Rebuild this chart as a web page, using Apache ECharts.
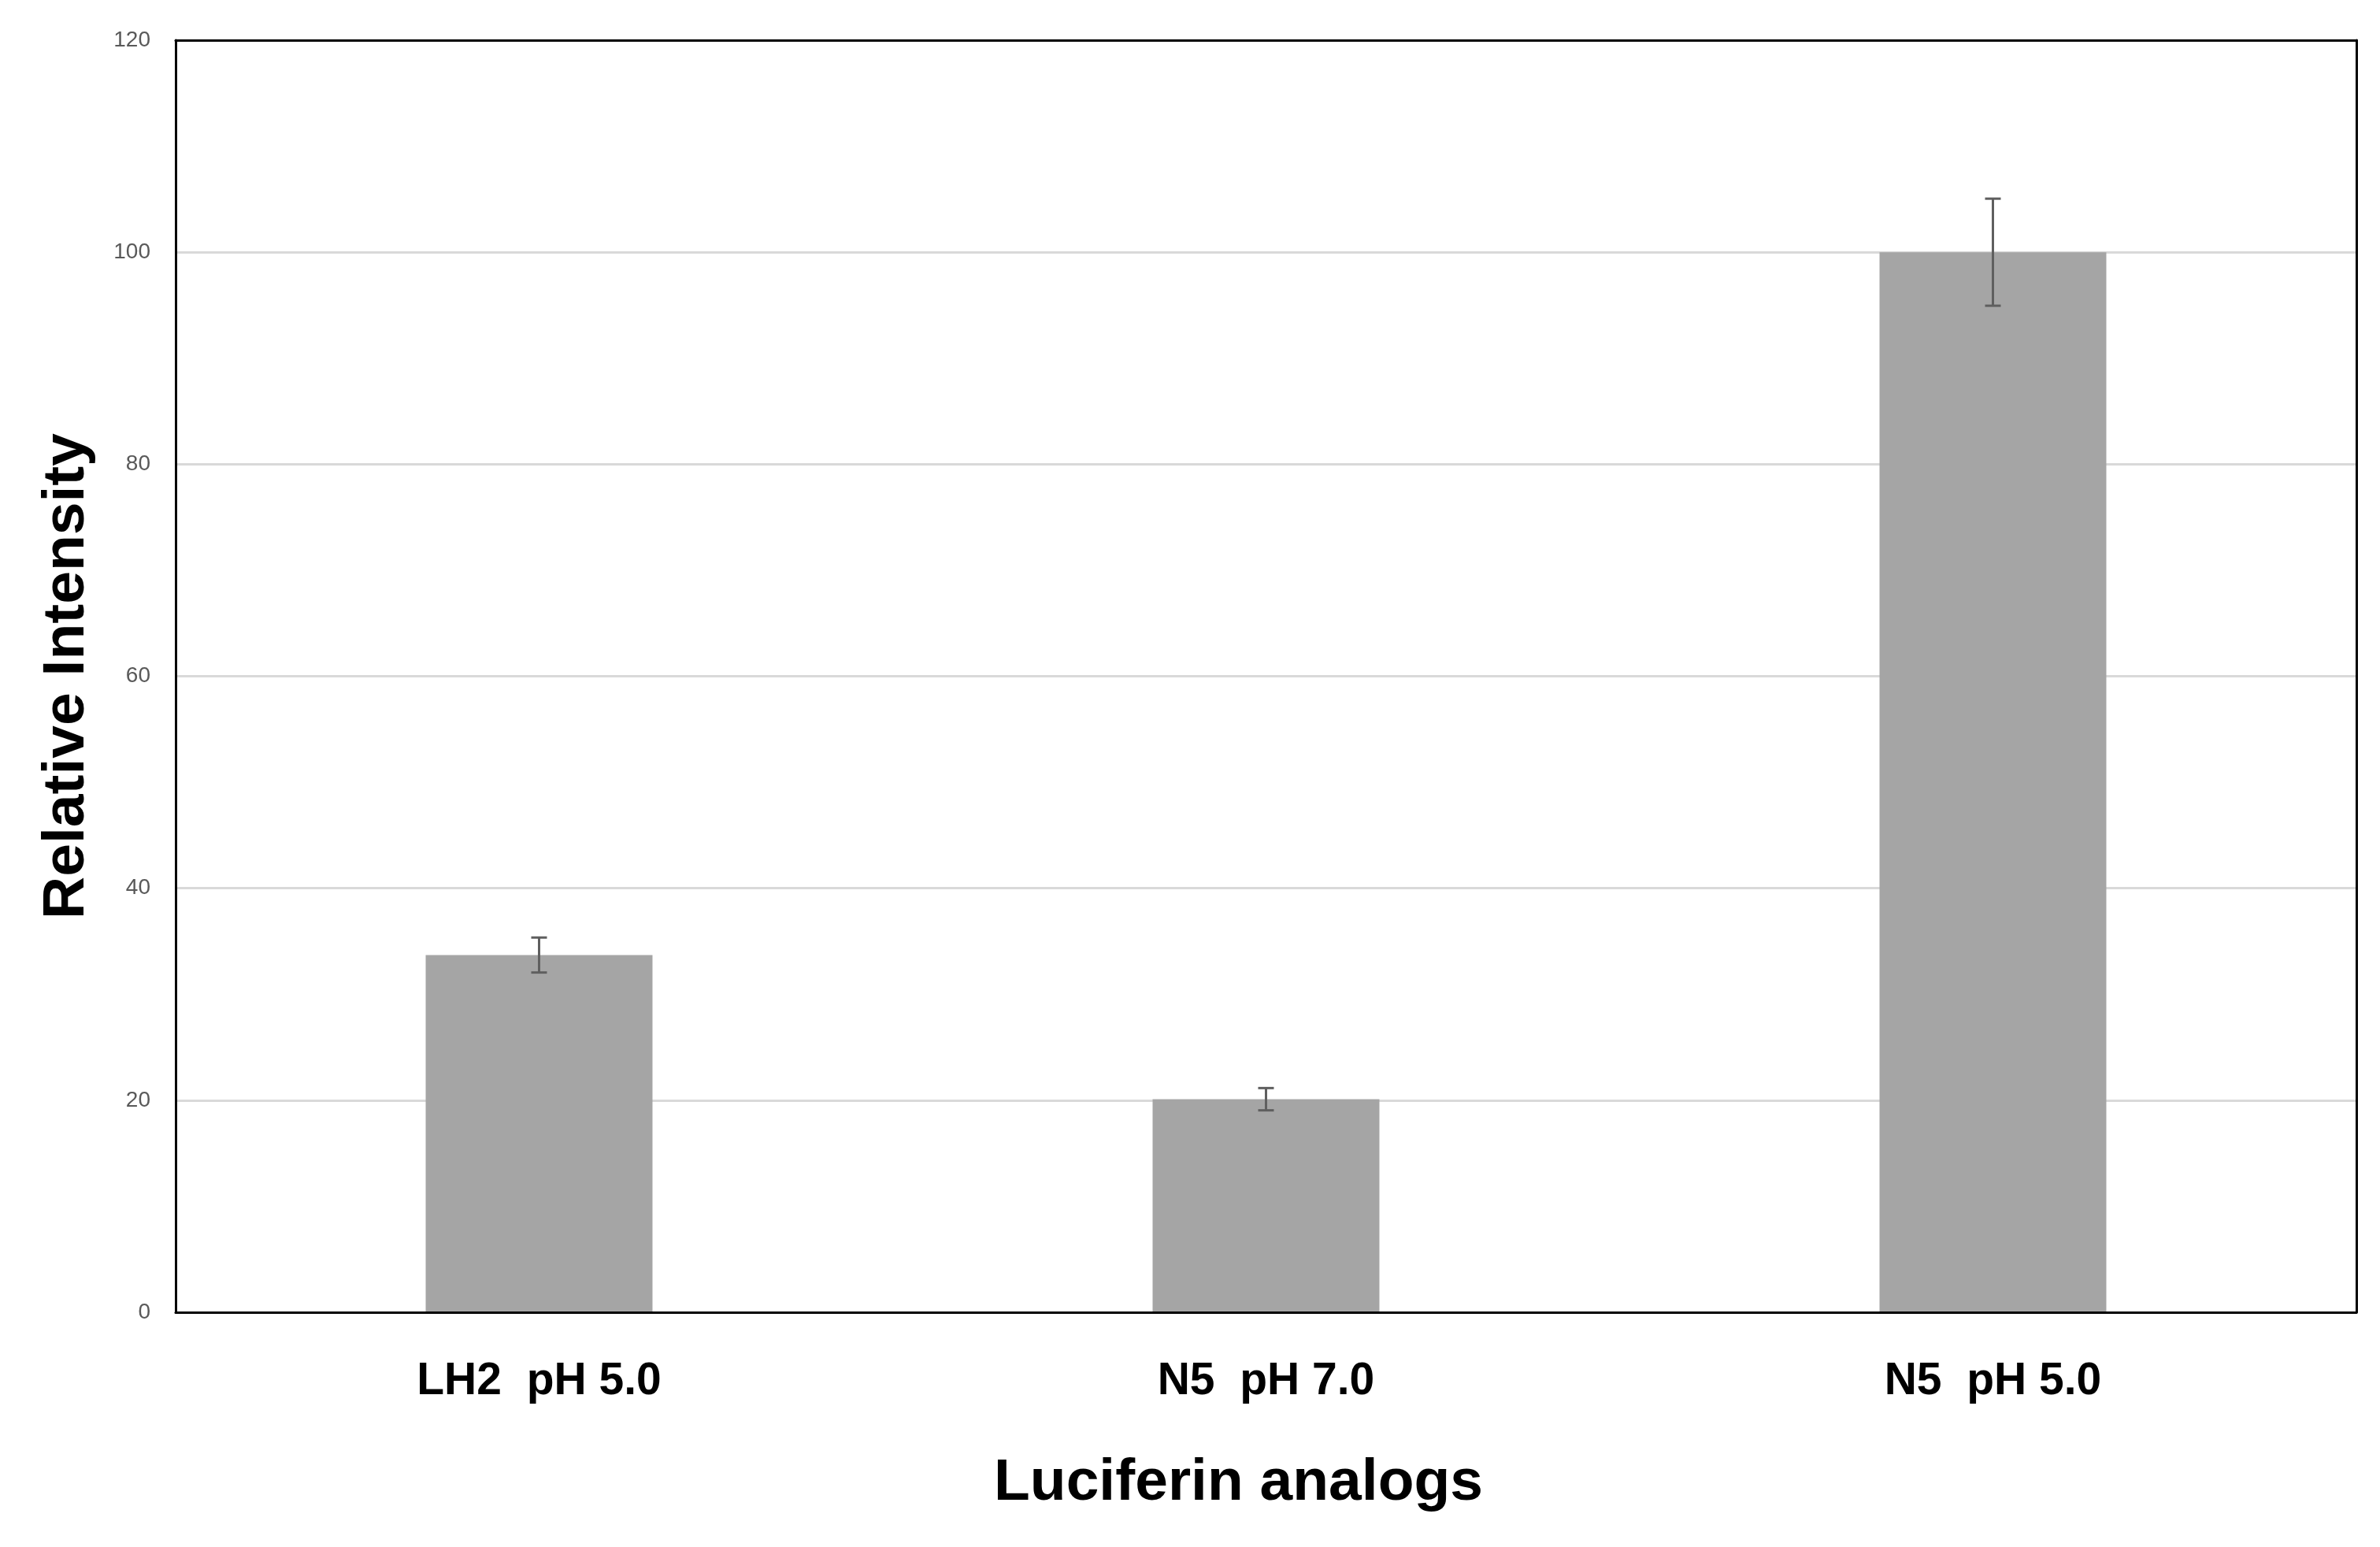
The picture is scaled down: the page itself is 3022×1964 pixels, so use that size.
<!DOCTYPE html>
<html>
<head>
<meta charset="utf-8">
<script src="https://cdn.jsdelivr.net/npm/echarts@6/dist/echarts.min.js"></script>
<style>
html,body{margin:0;padding:0;background:#fff;}
#chart{width:3022px;height:1964px;}
</style>
</head>
<body>
<div id="chart"></div>
<script>
var categories = ['LH2  pH 5.0', 'N5  pH 7.0', 'N5  pH 5.0'];
var values = [33.7, 20.1, 100.0];
var errors = [1.65, 1.05, 5.05];
var yTicks = [0, 20, 40, 60, 80, 100, 120];

var errData = values.map(function (v, i) { return [i, v - errors[i], v + errors[i]]; });

var titleFont = "'Liberation Sans Narrow', 'Liberation Sans', 'DejaVu Sans Condensed', sans-serif";
var yMin = yTicks[0], yMax = yTicks[yTicks.length - 1], yStep = yTicks[1] - yTicks[0];

var chart = echarts.init(document.getElementById('chart'), null, {renderer: 'canvas'});
chart.setOption({
  backgroundColor: '#ffffff',
  animation: false,
  grid: {left: 223, right: 30, top: 51, bottom: 298, show: false},
  xAxis: [{
    type: 'category',
    data: categories,
    axisLine: {show: true, onZero: false, lineStyle: {color: '#000000', width: 3}},
    axisTick: {show: false},
    axisLabel: {
      color: '#000000', fontSize: 57, fontWeight: 'bold', fontFamily: titleFont, margin: 60
    },
    name: 'Luciferin analogs',
    nameLocation: 'middle',
    nameGap: 180,
    nameTextStyle: {
      color: '#000000', fontSize: 75, fontWeight: 'bold', fontFamily: titleFont,
      padding: [0, 70, 0, 0]
    },
    z: 10
  }, {
    type: 'category',
    data: categories,
    position: 'top',
    axisLine: {show: true, onZero: false, lineStyle: {color: '#000000', width: 3}},
    axisTick: {show: false},
    axisLabel: {show: false},
    splitLine: {show: false},
    z: 10
  }],
  yAxis: [{
    type: 'value',
    min: yMin, max: yMax, interval: yStep,
    axisLine: {show: true, onZero: false, lineStyle: {color: '#000000', width: 3}},
    axisTick: {show: false},
    axisLabel: {color: '#595959', fontSize: 28, fontFamily: "'Liberation Sans', sans-serif", margin: 32},
    splitLine: {show: false},
    name: 'Relative Intensity',
    nameLocation: 'middle',
    nameRotate: 90,
    nameGap: 100,
    nameTextStyle: {color: '#000000', fontSize: 75, fontWeight: 'bold', fontFamily: titleFont},
    z: 10
  }, {
    type: 'value',
    position: 'right',
    min: yMin, max: yMax, interval: yStep,
    axisLine: {show: true, onZero: false, lineStyle: {color: '#000000', width: 3}},
    axisTick: {show: false},
    axisLabel: {show: false},
    splitLine: {show: true, showMinLine: false, showMaxLine: false, lineStyle: {color: '#d9d9d9', width: 3}},
    z: 0
  }],
  series: [
    {
      type: 'bar',
      data: values,
      barWidth: '31.2%',
      itemStyle: {color: '#a5a5a5'},
      z: 2
    },
    {
      type: 'custom',
      data: errData,
      z: 5,
      renderItem: function (params, api) {
        var x = api.value(0);
        var lo = api.coord([x, api.value(1)]);
        var hi = api.coord([x, api.value(2)]);
        var hw = 10;
        var style = {stroke: '#5f5f5f', lineWidth: 3, fill: null};
        return {
          type: 'group',
          children: [
            {type: 'line', shape: {x1: lo[0], y1: lo[1], x2: hi[0], y2: hi[1]}, style: style},
            {type: 'line', shape: {x1: hi[0] - hw, y1: hi[1], x2: hi[0] + hw, y2: hi[1]}, style: style},
            {type: 'line', shape: {x1: lo[0] - hw, y1: lo[1], x2: lo[0] + hw, y2: lo[1]}, style: style}
          ]
        };
      }
    }
  ]
});
</script>
</body>
</html>
